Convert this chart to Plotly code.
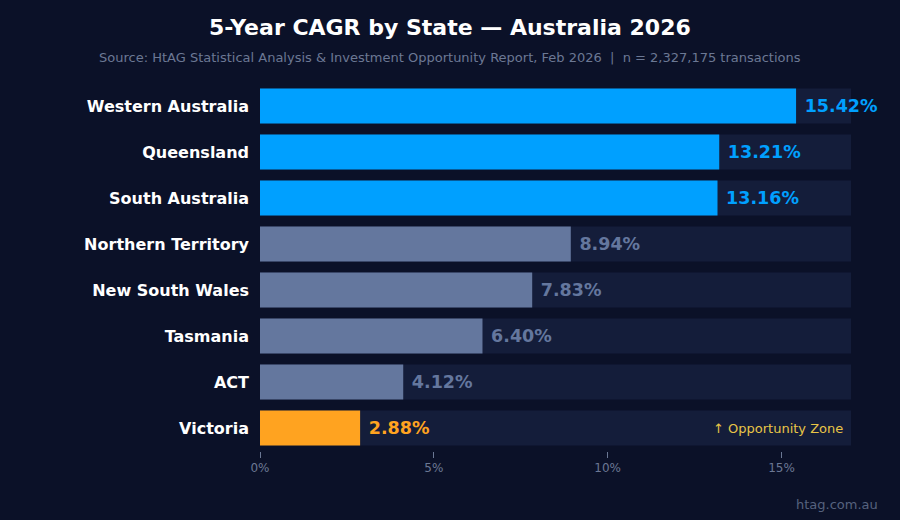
import plotly.graph_objects as go

states = ["Western Australia", "Queensland", "South Australia", "Northern Territory",
          "New South Wales", "Tasmania", "ACT", "Victoria"]
cagr = [15.42, 13.21, 13.16, 8.94, 7.83, 6.40, 4.12, 2.88]
tiers = ["top", "top", "top", "mid", "mid", "mid", "mid", "low"]
tick_vals = [0, 5, 10, 15]
tick_text = ["0%", "5%", "10%", "15%"]

palette = {"top": "#00a0ff", "mid": "#64779e", "low": "#ffa320"}
colors = [palette[t] for t in tiers]
XMAX = 17.0

fig = go.Figure()
fig.add_trace(go.Bar(
    y=states, x=[XMAX] * len(states), orientation="h",
    marker=dict(color="#141d3a", line=dict(width=0)),
    width=0.76, hoverinfo="skip", showlegend=False,
))
fig.add_trace(go.Bar(
    y=states, x=cagr, orientation="h",
    marker=dict(color=colors, line=dict(width=0)),
    width=0.76,
    text=[f" <b>{v:.2f}%</b>" for v in cagr], textposition="outside",
    textfont=dict(family="DejaVu Sans", size=17.5, color=colors),
    cliponaxis=False, showlegend=False,
))

# horizontal centre of the page expressed in plot-area (paper) units
PAGE_CX = (450 - 260) / (900 - 260 - 49)

fig.update_layout(
    barmode="overlay",
    width=900, height=520,
    paper_bgcolor="#0b1128", plot_bgcolor="#0b1128",
    margin=dict(l=260, r=49, t=83, b=69),
    font=dict(family="DejaVu Sans", color="#ffffff"),
    xaxis=dict(
        range=[0, XMAX], tickvals=tick_vals, ticktext=tick_text,
        showgrid=False, zeroline=False, showline=False,
        ticks="outside", ticklen=6, tickcolor="#6b7894",
        tickfont=dict(size=12, color="#6b7894"),
    ),
    yaxis=dict(
        categoryorder="array", categoryarray=states[::-1],
        tickvals=states, ticktext=[f"<b>{s}</b>" for s in states],
        showgrid=False, zeroline=False, showline=False,
        ticks="", ticklabelstandoff=10,
        tickfont=dict(size=16, color="#ffffff", family="DejaVu Sans"),
    ),
    annotations=[
        dict(text="<b>5-Year CAGR by State — Australia 2026</b>", x=PAGE_CX, y=1, yshift=56,
             xref="paper", yref="paper", xanchor="center", yanchor="middle",
             showarrow=False, font=dict(size=22, color="#ffffff", family="DejaVu Sans")),
        dict(text="Source: HtAG Statistical Analysis &amp; Investment Opportunity Report, Feb 2026  |  n = 2,327,175 transactions",
             x=PAGE_CX, y=1, yshift=26, xref="paper", yref="paper", xanchor="center", yanchor="middle",
             showarrow=False, font=dict(size=13, color="#6b7894", family="DejaVu Sans")),
        dict(text="↑ Opportunity Zone", x=XMAX, y="Victoria", xref="x", yref="y",
             xanchor="right", yanchor="middle", xshift=-6, showarrow=False,
             font=dict(size=13, color="#e8c547", family="DejaVu Sans")),
        dict(text="htag.com.au", x=1, y=0, xref="paper", yref="paper",
             xanchor="right", yanchor="bottom", xshift=29, yshift=-63, showarrow=False,
             font=dict(size=13, color="#56627e", family="DejaVu Sans")),
    ],
)
fig.write_html("out.html")
